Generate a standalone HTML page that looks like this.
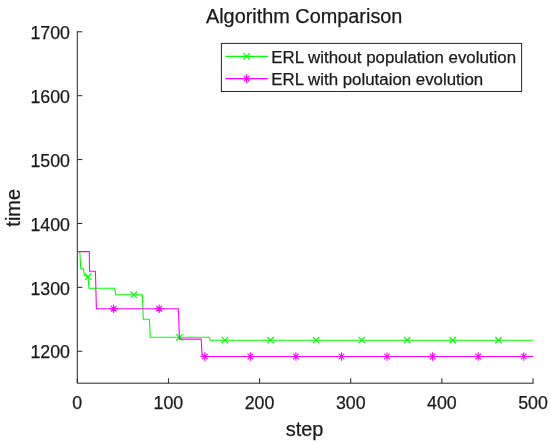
<!DOCTYPE html><html><head><meta charset="utf-8"><title>Algorithm Comparison</title>
<style>html,body{margin:0;padding:0;background:#fff}svg{display:block}text{font-family:"Liberation Sans",Arial,Helvetica,sans-serif;fill:#1a1a1a;stroke:#1a1a1a;stroke-width:0.25px}</style></head><body>
<svg xmlns="http://www.w3.org/2000/svg" width="550" height="444" viewBox="0 0 550 444">
<rect width="550" height="444" fill="#fff"/>
<g stroke="#262626" stroke-width="1" fill="none">
<path d="M77.3 31.3V383.2H533.5"/>
<path d="M77.30 383.2v-5"/>
<path d="M168.44 383.2v-5"/>
<path d="M259.58 383.2v-5"/>
<path d="M350.72 383.2v-5"/>
<path d="M441.86 383.2v-5"/>
<path d="M533.00 383.2v-5"/>
<path d="M77.3 351.25h5"/>
<path d="M77.3 287.36h5"/>
<path d="M77.3 223.47h5"/>
<path d="M77.3 159.58h5"/>
<path d="M77.3 95.69h5"/>
<path d="M77.3 31.80h5"/>
</g>
<g font-size="17.8px">
<text x="77.30" y="408.7" text-anchor="middle">0</text>
<text x="168.44" y="408.7" text-anchor="middle">100</text>
<text x="259.58" y="408.7" text-anchor="middle">200</text>
<text x="350.72" y="408.7" text-anchor="middle">300</text>
<text x="441.86" y="408.7" text-anchor="middle">400</text>
<text x="533.00" y="408.7" text-anchor="middle">500</text>
<text x="70.0" y="358.45" text-anchor="end">1200</text>
<text x="70.0" y="294.56" text-anchor="end">1300</text>
<text x="70.0" y="230.67" text-anchor="end">1400</text>
<text x="70.0" y="166.78" text-anchor="end">1500</text>
<text x="70.0" y="102.89" text-anchor="end">1600</text>
<text x="70.0" y="39.00" text-anchor="end">1700</text>
</g>
<text x="304.2" y="23.2" font-size="19.88px" text-anchor="middle">Algorithm Comparison</text>
<text x="304.6" y="436.2" font-size="19.95px" text-anchor="middle">step</text>
<text transform="translate(20.3 207.8) rotate(-90)" font-size="19.95px" text-anchor="middle">time</text>
<polyline points="78.00,251.60 79.80,251.60 80.80,268.90 83.40,268.90 84.50,275.60 88.10,276.60 88.90,288.30 114.70,288.30 115.70,294.70 142.40,294.70 143.30,319.30 149.40,319.30 150.30,337.30 208.90,337.30 210.40,340.20 533.00,340.20" fill="none" stroke="#00ff00" stroke-width="1.1" stroke-linejoin="round"/>
<path d="M84.90 273.40L91.30 279.80M84.90 279.80L91.30 273.40M130.61 291.50L137.01 297.90M130.61 297.90L137.01 291.50M176.18 334.10L182.58 340.50M176.18 340.50L182.58 334.10M221.75 337.00L228.15 343.40M221.75 343.40L228.15 337.00M267.32 337.00L273.72 343.40M267.32 343.40L273.72 337.00M312.89 337.00L319.29 343.40M312.89 343.40L319.29 337.00M358.46 337.00L364.86 343.40M358.46 343.40L364.86 337.00M404.03 337.00L410.43 343.40M404.03 343.40L410.43 337.00M449.60 337.00L456.00 343.40M449.60 343.40L456.00 337.00M495.17 337.00L501.57 343.40M495.17 343.40L501.57 337.00" stroke="#00ff00" stroke-width="1.1" fill="none"/>
<polyline points="78.00,251.60 89.30,251.60 89.60,271.20 95.40,271.20 96.40,308.70 178.40,308.70 179.40,339.10 201.20,339.10 202.10,356.50 533.00,356.50" fill="none" stroke="#ff00ff" stroke-width="1.1" stroke-linejoin="round"/>
<path d="M113.61 304.40L113.61 313.00M109.31 308.70L117.91 308.70M110.81 305.90L116.41 311.50M110.81 311.50L116.41 305.90M159.18 304.40L159.18 313.00M154.88 308.70L163.48 308.70M156.38 305.90L161.98 311.50M156.38 311.50L161.98 305.90M204.75 352.20L204.75 360.80M200.45 356.50L209.05 356.50M201.95 353.70L207.55 359.30M201.95 359.30L207.55 353.70M250.32 352.20L250.32 360.80M246.02 356.50L254.62 356.50M247.52 353.70L253.12 359.30M247.52 359.30L253.12 353.70M295.89 352.20L295.89 360.80M291.59 356.50L300.19 356.50M293.09 353.70L298.69 359.30M293.09 359.30L298.69 353.70M341.46 352.20L341.46 360.80M337.16 356.50L345.76 356.50M338.66 353.70L344.26 359.30M338.66 359.30L344.26 353.70M387.03 352.20L387.03 360.80M382.73 356.50L391.33 356.50M384.23 353.70L389.83 359.30M384.23 359.30L389.83 353.70M432.60 352.20L432.60 360.80M428.30 356.50L436.90 356.50M429.80 353.70L435.40 359.30M429.80 359.30L435.40 353.70M478.17 352.20L478.17 360.80M473.87 356.50L482.47 356.50M475.37 353.70L480.97 359.30M475.37 359.30L480.97 353.70M523.74 352.20L523.74 360.80M519.44 356.50L528.04 356.50M520.94 353.70L526.54 359.30M520.94 359.30L526.54 353.70" stroke="#ff00ff" stroke-width="1.1" fill="none"/>
<rect x="221.4" y="43.4" width="300.2" height="48.1" fill="#fff" stroke="#262626" stroke-width="1"/>
<path d="M225.3 56.4H268" stroke="#00ff00" stroke-width="1.1"/><path d="M243.40 53.20L249.80 59.60M243.40 59.60L249.80 53.20" stroke="#00ff00" stroke-width="1.1"/>
<path d="M225.3 78.6H268" stroke="#ff00ff" stroke-width="1.1"/><path d="M246.60 74.30L246.60 82.90M242.30 78.60L250.90 78.60M243.80 75.80L249.40 81.40M243.80 81.40L249.40 75.80" stroke="#ff00ff" stroke-width="1.1"/>
<text id="l1" x="271.3" y="62.7" font-size="16.85px">ERL without population evolution</text>
<text id="l2" x="271.3" y="85.3" font-size="16.85px">ERL with polutaion evolution</text>
</svg></body></html>
